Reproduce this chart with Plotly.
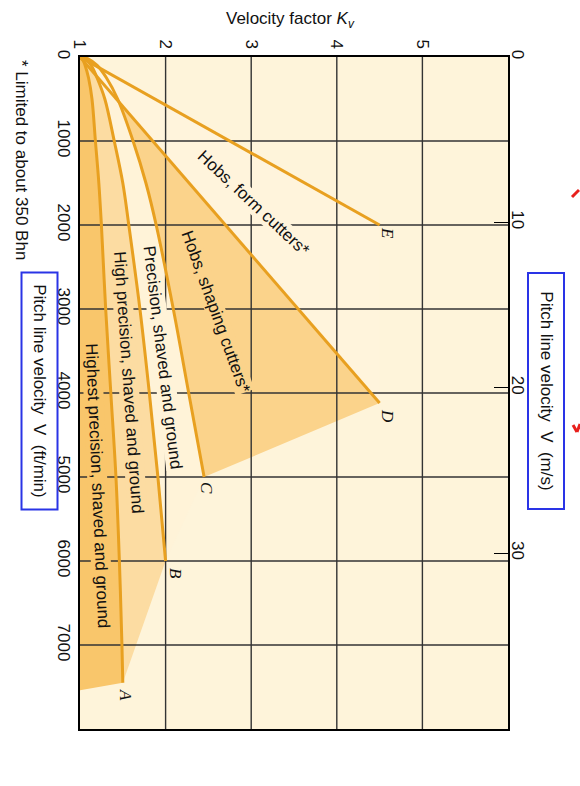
import plotly.graph_objects as go

# ---------------- data ----------------
kv_ticks = [1, 2, 3, 4, 5]
v_ticks = [0, 1000, 2000, 3000, 4000, 5000, 6000, 7000]
ms_ticks = [0, 10, 20, 30]
kv_grid = [2, 3, 4, 5]
v_grid = [1000, 2000, 3000, 4000, 5000, 6000, 7000]

# Curve A: Highest precision, shaved and ground
V_A = [0, 25, 100, 250, 500, 1000, 1500, 2000, 3000, 4000, 5000, 6000, 7000, 7450]
Kv_A = [1.00, 1.03, 1.06, 1.10, 1.14, 1.18, 1.22, 1.25, 1.30, 1.36, 1.42, 1.46, 1.49, 1.50]
# Curve B: High precision, shaved and ground
V_B = [0, 25, 100, 250, 500, 1000, 1500, 2000, 3000, 4000, 5000, 6000]
Kv_B = [1.00, 1.06, 1.13, 1.20, 1.29, 1.40, 1.50, 1.57, 1.70, 1.81, 1.91, 2.00]
# Curve C: Precision, shaved and ground
V_C = [0, 25, 100, 250, 500, 1000, 1500, 2000, 3000, 4000, 5000]
Kv_C = [1.00, 1.10, 1.20, 1.31, 1.44, 1.62, 1.77, 1.89, 2.09, 2.27, 2.45]
# Curve D: Hobs, shaping cutters
V_D = [0, 4120]
Kv_D = [1.00, 4.50]
# Curve E: Hobs, form cutters
V_E = [0, 2000]
Kv_E = [1.00, 4.50]
# lower-left corner of the darkest band
V_A_corner = 7540

FT_PER_MS = 196.85
KV_RANGE = [1, 6]
V_RANGE = [8000, 0]

# ---------------- style ----------------
LINE = "#e8a020"
BG = "#fef4da"
C_A = "#f9c66b"
C_AB = "#fcdca2"
C_BC = "#fff3d8"
C_CD = "#fbd38b"
C_DE = "#fff4dc"
GRID = "#333333"
FONT = "Liberation Sans"

W, H = 580, 786
ML, MR, MT, MB = 80, 72, 57, 57
PW, PH = W - ML - MR, H - MT - MB


def px2data(px, py):
    kv = KV_RANGE[0] + (px - ML) / PW * (KV_RANGE[1] - KV_RANGE[0])
    v = V_RANGE[1] + (py - MT) / PH * (V_RANGE[0] - V_RANGE[1])
    return kv, v


def px2paper(px, py):
    return (px - ML) / PW, (H - MB - py) / PH


fig = go.Figure()


def poly(xs, ys, color):
    fig.add_trace(go.Scatter(x=xs, y=ys, mode="lines", fill="toself",
                             fillcolor=color, line=dict(width=0, color=color),
                             hoverinfo="skip", showlegend=False))


poly(Kv_A + [1.0], V_A + [V_A_corner], C_A)
poly(Kv_A + Kv_B[::-1], V_A + V_B[::-1], C_AB)
poly(Kv_B + Kv_C[::-1], V_B + V_C[::-1], C_BC)
poly(Kv_C + Kv_D[::-1], V_C + V_D[::-1], C_CD)
poly(Kv_D + Kv_E[::-1], V_D + V_E[::-1], C_DE)

# grid lines drawn above fills
gx, gy = [], []
for k in kv_grid:
    gx += [k, k, None]
    gy += [V_RANGE[1], V_RANGE[0], None]
for v in v_grid:
    gx += [KV_RANGE[0], KV_RANGE[1], None]
    gy += [v, v, None]
fig.add_trace(go.Scatter(x=gx, y=gy, mode="lines", line=dict(color=GRID, width=1.4),
                         hoverinfo="skip", showlegend=False))

for xs, ys, shp in [(Kv_A, V_A, "spline"), (Kv_B, V_B, "spline"), (Kv_C, V_C, "spline"),
                    (Kv_D, V_D, "linear"), (Kv_E, V_E, "linear")]:
    fig.add_trace(go.Scatter(x=xs, y=ys, mode="lines",
                             line=dict(color=LINE, width=3, shape=shp),
                             hoverinfo="skip", showlegend=False))

# dummy trace for the m/s axis
fig.add_trace(go.Scatter(x=[1], y=[0], yaxis="y2", mode="markers",
                         marker=dict(opacity=0), hoverinfo="skip", showlegend=False))

tickfont = dict(family=FONT, size=17, color="#111")
fig.update_layout(
    width=W, height=H,
    margin=dict(l=ML, r=MR, t=MT, b=MB, pad=0),
    paper_bgcolor="white", plot_bgcolor=BG,
    showlegend=False,
    xaxis=dict(range=KV_RANGE, side="top", tickvals=kv_ticks,
               ticktext=[str(t) for t in kv_ticks], tickangle=90,
               showgrid=False, zeroline=False, showline=True, mirror=True,
               linecolor="black", linewidth=2, ticks="", tickfont=tickfont),
    yaxis=dict(range=V_RANGE, tickvals=v_ticks, ticktext=[str(t) for t in v_ticks],
               tickangle=90, showgrid=False, zeroline=False, showline=True,
               mirror=True, linecolor="black", linewidth=2, ticks="",
               tickfont=tickfont),
    yaxis2=dict(range=[V_RANGE[0] / FT_PER_MS, 0], overlaying="y", side="right",
                tickvals=ms_ticks, ticktext=[str(t) for t in ms_ticks],
                tickangle=90, showgrid=False, zeroline=False, showline=False,
                ticks="inside", ticklen=14, tickwidth=1.4, tickcolor="black",
                tickfont=tickfont),
)

ann = []


def label(text, px, py, angle, bg=None, font=None):
    kv, v = px2data(px, py)
    d = dict(x=kv, y=v, xref="x", yref="y", text=text, showarrow=False,
             textangle=angle, font=font or dict(family=FONT, size=17, color="#111"),
             xanchor="center", yanchor="middle")
    if bg:
        d.update(bgcolor=bg, borderpad=0)
    ann.append(d)


label("Hobs, form cutters*", 254, 203, 43, C_DE)
label("Hobs, shaping cutters*", 216, 311, 70, C_CD)
label("Precision, shaved and ground", 163, 357, 83, C_BC)
label("High precision, shaved and ground", 129, 382, 86, C_AB)
label("Highest precision, shaved and ground", 98, 485, 87.5, C_A)

pfont = dict(family="Liberation Serif", size=17, color="#111")
for t, px, py in [("E", 388, 233), ("D", 388, 416), ("C", 207, 488),
                  ("B", 176, 573), ("A", 126, 695)]:
    label("<i>%s</i>" % t, px, py, 90, None, pfont)


def paper_ann(text, px, py, angle=0, **kw):
    x, y = px2paper(px, py)
    d = dict(x=x, y=y, xref="paper", yref="paper", text=text, showarrow=False,
             textangle=angle, font=dict(family=FONT, size=17, color="#111"),
             xanchor="center", yanchor="middle")
    d.update(kw)
    ann.append(d)


paper_ann("Velocity factor <i>K<sub>v</sub></i>", 290, 20)
paper_ann("* Limited to about 350 Bhn", 22, 160, 90)
NB = "\u00a0"
paper_ann("Pitch line velocity" + NB + " V " + NB + "(ft/min)", 40, 390.5, 90,
          bordercolor="#2a34e6", borderwidth=2, bgcolor="white",
          width=235, height=34, borderpad=0)
paper_ann("Pitch line velocity" + NB + " V " + NB + "(m/s)", 546, 391, 90,
          bordercolor="#2a34e6", borderwidth=2, bgcolor="white",
          width=234, height=34, borderpad=0)
fig.update_layout(annotations=ann)

# small red marks at the right edge
shapes = []
for (x0, y0, x1, y1) in [(572, 197, 579, 190), (573, 425, 577, 432), (577, 432, 580, 424)]:
    a0, b0 = px2paper(x0, y0)
    a1, b1 = px2paper(x1, y1)
    shapes.append(dict(type="line", xref="paper", yref="paper", x0=a0, y0=b0,
                       x1=a1, y1=b1, line=dict(color="#e8201c", width=3)))
fig.update_layout(shapes=shapes)

fig.write_html("out.html")
